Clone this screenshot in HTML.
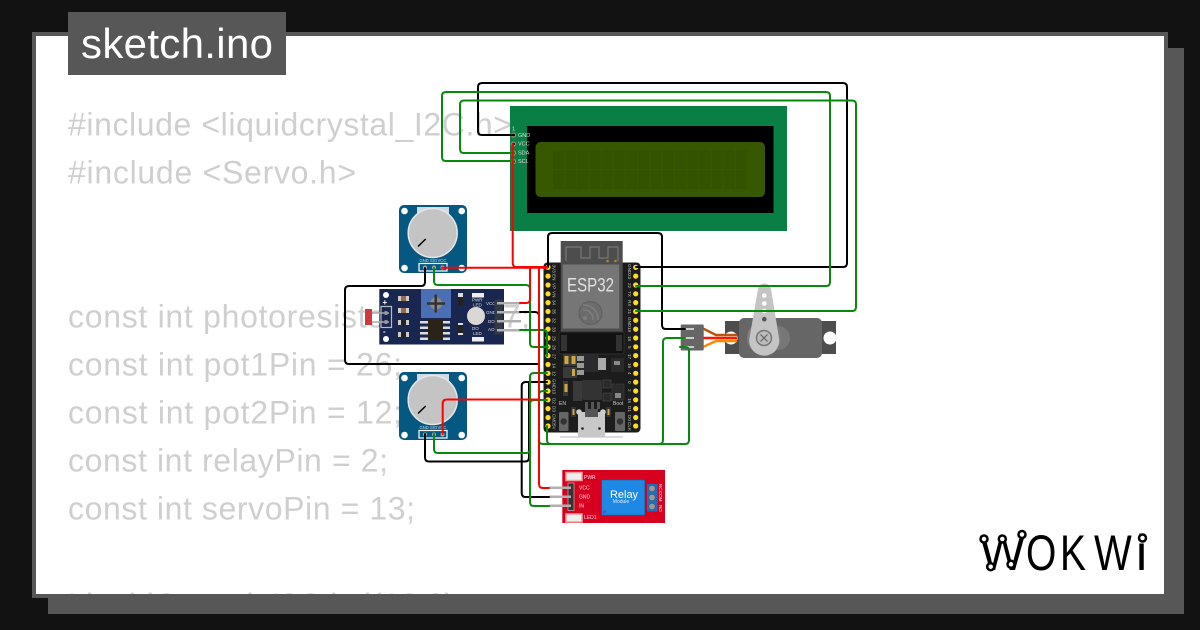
<!DOCTYPE html>
<html><head><meta charset="utf-8"><style>
html,body{margin:0;padding:0;background:#121212;width:1200px;height:630px;overflow:hidden}
svg{display:block}
.code{font-family:"Liberation Sans",sans-serif;font-size:32px;fill:#cfcfcf}
.t{font-family:"Liberation Sans",sans-serif}
.w{fill:none;stroke-width:2;stroke-linecap:round;stroke-linejoin:round}
</style></head><body>
<svg width="1200" height="630" viewBox="0 0 1200 630" xmlns="http://www.w3.org/2000/svg">
<defs>
<clipPath id="pc"><rect x="36" y="36" width="1128" height="558"/></clipPath>
<pattern id="cells" x="553" y="150" width="12.2" height="20" patternUnits="userSpaceOnUse"><rect width="11" height="19" fill="#345300"/></pattern>
</defs>
<rect width="1200" height="630" fill="#121212"/>
<rect x="48" y="48" width="1136" height="566" fill="#575757"/>
<rect x="32" y="32" width="1136" height="566" fill="#575757"/>
<rect x="36" y="36" width="1128" height="558" fill="#fff"/>
<g clip-path="url(#pc)">
<text class="code" x="68" y="135.500" textLength="444">#include &lt;liquidcrystal_I2C.h&gt;</text>
<text class="code" x="68" y="183.500" textLength="288">#include &lt;Servo.h&gt;</text>
<text class="code" x="68" y="327.500" textLength="462">const int photoresistorPin = 27;</text>
<text class="code" x="68" y="375.500" textLength="334">const int pot1Pin = 26;</text>
<text class="code" x="68" y="423.500" textLength="334">const int pot2Pin = 12;</text>
<text class="code" x="68" y="471.500" textLength="320">const int relayPin = 2;</text>
<text class="code" x="68" y="519.500" textLength="347">const int servoPin = 13;</text>
<text class="code" x="68" y="616" textLength="396">LiquidCrystal_I2C lcd(16,2);</text>
</g>
<rect x="68" y="12" width="218" height="63" fill="#575757"/>
<text class="t" x="81" y="58" font-size="42" fill="#fff" textLength="192">sketch.ino</text>

<!-- LCD -->
<rect x="510" y="106" width="277" height="125" fill="#0a7f45"/>
<rect x="527" y="126" width="246.500" height="87" fill="#000"/>
<rect x="535.500" y="142" width="229.500" height="55" rx="5" fill="#375700"/>
<rect x="553" y="150" width="195" height="39" fill="url(#cells)"/>
<g class="t" font-size="5.500" fill="#ddd">
<text x="512" y="130.500">1</text>
<text x="518" y="137">GND</text><text x="518" y="145.500">VCC</text><text x="518" y="154.500">SDA</text><text x="518" y="163">SCL</text>
</g>
<g fill="#111" stroke="#a09070" stroke-width="1.200"><circle cx="513.500" cy="135" r="2"/><circle cx="513.500" cy="144" r="2"/><circle cx="513.500" cy="153" r="2"/><circle cx="513.500" cy="161.500" r="2"/></g>

<!-- Pot 1 -->
<g>
<rect x="399" y="205" width="68" height="68" rx="5" fill="#045881"/>
<rect x="417" y="207" width="32" height="8" fill="#cfdbe4"/>
<circle cx="404.500" cy="211" r="3.300" fill="#fff"/><circle cx="461.700" cy="211" r="3.300" fill="#fff"/>
<circle cx="404.500" cy="268" r="3.300" fill="#fff"/><circle cx="461.700" cy="268" r="3.300" fill="#fff"/>
<circle cx="432.700" cy="233" r="24.500" fill="#c4c4c4" stroke="#e6e6e6" stroke-width="1.500"/>
<line x1="418" y1="246.500" x2="425.700" y2="239" stroke="#000" stroke-width="1.500"/>
<g class="t" font-size="4.200" fill="#cde"><text x="419.500" y="262">GND</text><text x="430" y="262">SIG</text><text x="437.500" y="262">VCC</text></g>
<rect x="419" y="263.500" width="28" height="7.500" fill="#045881" stroke="#fff" stroke-width="1.200"/>
<circle cx="425" cy="267.500" r="2" fill="#aaa"/><circle cx="434" cy="267.500" r="2" fill="#aaa"/><circle cx="442.500" cy="267.500" r="2" fill="#aaa"/>
</g>
<!-- Pot 2 -->
<g transform="translate(0,167)">
<rect x="399" y="205" width="68" height="68" rx="5" fill="#045881"/>
<rect x="417" y="207" width="32" height="8" fill="#cfdbe4"/>
<circle cx="404.500" cy="211" r="3.300" fill="#fff"/><circle cx="461.700" cy="211" r="3.300" fill="#fff"/>
<circle cx="404.500" cy="268" r="3.300" fill="#fff"/><circle cx="461.700" cy="268" r="3.300" fill="#fff"/>
<circle cx="432.700" cy="233" r="24.500" fill="#c4c4c4" stroke="#e6e6e6" stroke-width="1.500"/>
<line x1="418" y1="246.500" x2="425.700" y2="239" stroke="#000" stroke-width="1.500"/>
<g class="t" font-size="4.200" fill="#cde"><text x="419.500" y="262">GND</text><text x="430" y="262">SIG</text><text x="437.500" y="262">VCC</text></g>
<rect x="419" y="263.500" width="28" height="7.500" fill="#045881" stroke="#fff" stroke-width="1.200"/>
<circle cx="425" cy="267.500" r="2" fill="#aaa"/><circle cx="434" cy="267.500" r="2" fill="#aaa"/><circle cx="442.500" cy="267.500" r="2" fill="#aaa"/>
</g>

<!-- Light sensor -->
<rect x="379.300" y="289" width="124.700" height="55.500" fill="#19264f"/>
<circle cx="386" cy="295" r="3" fill="#fff"/><circle cx="386" cy="339" r="3" fill="#fff"/>
<text class="t" x="382.500" y="305" font-size="8" font-weight="bold" fill="#fff">+</text>
<text class="t" x="383" y="334" font-size="8" font-weight="bold" fill="#fff">-</text>
<rect x="365" y="309" width="7" height="16" fill="#d0393f"/>
<rect x="381" y="306.500" width="10.500" height="21" fill="#19264f" stroke="#bbb" stroke-width="1.200"/>
<line x1="372" y1="313" x2="389" y2="313" stroke="#aaa" stroke-width="1.500"/><line x1="372" y1="322" x2="389" y2="322" stroke="#aaa" stroke-width="1.500"/>
<circle cx="386" cy="313" r="2" fill="#999"/><circle cx="386" cy="322" r="2" fill="#999"/>
<g>
<rect x="398" y="296" width="11" height="5" fill="#ccc"/><rect x="401" y="296" width="5" height="5" fill="#9a6a50"/>
<rect x="398" y="308" width="11" height="5" fill="#ccc"/><rect x="401" y="308" width="5" height="5" fill="#9a6a50"/>
<rect x="398" y="320" width="11" height="5" fill="#ccc"/><rect x="401" y="320" width="5" height="5" fill="#222"/>
<rect x="398" y="332" width="11" height="5" fill="#ccc"/><rect x="401" y="332" width="5" height="5" fill="#222"/>
</g>
<rect x="421" y="289" width="30" height="29" fill="#4a6fb5"/>
<circle cx="436" cy="303.500" r="6" fill="#8a8a8a"/>
<rect x="434.500" y="294.500" width="2.500" height="18" fill="#333"/><rect x="427" y="302.300" width="18" height="2.500" fill="#333"/>
<g fill="#ddd"><rect x="420" y="321" width="30" height="2.500"/><rect x="420" y="326.500" width="30" height="2.500"/><rect x="420" y="332" width="30" height="2.500"/><rect x="420" y="337.500" width="30" height="2.500"/></g>
<rect x="428" y="320" width="15" height="20" fill="#2a2418"/>
<rect x="458" y="293" width="5" height="12" fill="#ddd"/><rect x="458" y="297" width="5" height="9" fill="#222"/>
<rect x="458" y="323" width="5" height="12" fill="#ddd"/><rect x="458" y="325" width="5" height="8" fill="#222"/>
<rect x="472" y="293" width="12" height="4.500" fill="#eee"/><rect x="472" y="337" width="12" height="4.500" fill="#eee"/>
<g class="t" font-size="4.500" fill="#ddd"><text x="472" y="301.500">PWR</text><text x="473" y="306.500">LED</text><text x="472" y="330">DO</text><text x="473" y="335">LED</text>
<text x="486" y="305">VCC</text><text x="486" y="314">GND</text><text x="488" y="323">DO</text><text x="488" y="331">AO</text></g>
<circle cx="476" cy="316" r="9" fill="#dad8d4"/>
<rect x="494.500" y="299.500" width="8" height="35" fill="#333845"/>
<g fill="#b0b0b0"><rect x="497" y="302" width="24" height="2.500"/><rect x="497" y="311" width="24" height="2.500"/><rect x="497" y="320" width="24" height="2.500"/><rect x="497" y="329" width="24" height="2.500"/></g>

<!-- ESP32 -->
<rect x="543.500" y="262.500" width="97" height="170" rx="4" fill="#1c1c1c"/>
<rect x="560.700" y="241" width="62" height="91" fill="#4d4d4d"/>
<path d="M566 261 V247 H581 V258 H590 V247 H599 V258 H608 V247 H618 V261" fill="none" stroke="#777" stroke-width="1.200"/>
<circle cx="607.500" cy="261" r="1.300" fill="#a88a20"/><circle cx="615.500" cy="261" r="1.300" fill="#a88a20"/>
<rect x="562.700" y="264.500" width="56.500" height="64" fill="#767676"/>
<text class="t" x="567" y="291.500" font-size="19.500" fill="#e0e0e0" textLength="47" lengthAdjust="spacingAndGlyphs">ESP32</text>
<circle cx="590.500" cy="313" r="11.500" fill="#6c6c6c" stroke="#5f5f5f"/>
<path d="M583 305 a14 14 0 0 1 15 15 M583 310 a9 9 0 0 1 10 10" fill="none" stroke="#7e7e7e" stroke-width="1.500"/>
<circle cx="585" cy="318" r="2" fill="#7e7e7e"/>
<!-- lower module block -->
<rect x="559" y="332" width="65" height="22" rx="2" fill="#121212" stroke="#2e2e2e"/>
<g fill="#333"><rect x="561" y="335" width="6" height="16"/><rect x="616" y="335" width="6" height="16"/></g>
<g fill="#3a3a3a">
<rect x="563" y="354" width="7" height="12"/><rect x="570" y="354" width="7" height="12"/>
<rect x="563" y="367" width="7" height="11"/><rect x="570" y="367" width="7" height="11"/>
<rect x="563" y="381" width="5" height="15"/><rect x="573" y="381" width="9" height="20"/>
</g>
<g fill="#d0a840"><rect x="564.500" y="356" width="4" height="8"/><rect x="571.500" y="356" width="4" height="8"/><rect x="572" y="369" width="3" height="7"/><rect x="564.500" y="384" width="3" height="8"/></g>
<rect x="578" y="354" width="21" height="18" fill="#2b2b2b"/>
<rect x="598" y="358" width="8" height="12" fill="#aaa"/>
<g fill="#999"><rect x="577" y="356" width="7" height="5"/><rect x="577" y="363" width="7" height="5"/><rect x="577" y="370" width="7" height="5"/></g>
<rect x="611" y="358" width="13" height="14" fill="#2a2a2a"/><rect x="614" y="361" width="6" height="4" fill="#888"/>
<rect x="582" y="380" width="20" height="20" rx="2" fill="#333"/>
<rect x="603" y="380" width="8" height="8" fill="#2a2a2a" stroke="#555" stroke-width=".500"/>
<rect x="603" y="393" width="8" height="8" fill="#2a2a2a" stroke="#555" stroke-width=".500"/>
<rect x="612" y="384" width="12" height="16" fill="#2a2a2a" stroke="#444" stroke-width=".500"/><rect x="615" y="393" width="6" height="5" fill="#888"/>
<text class="t" x="559" y="405" font-size="5" fill="#ccc">EN</text>
<text class="t" x="613" y="405" font-size="5" fill="#ccc">Boot</text>
<rect x="559" y="412" width="9.500" height="19" rx="1" fill="#666"/><circle cx="563.700" cy="421.500" r="3.200" fill="#333"/>
<rect x="615" y="412" width="10" height="19" rx="1" fill="#666"/><circle cx="620" cy="421.500" r="3.200" fill="#333"/>
<rect x="571" y="407" width="5" height="10" fill="#333"/><rect x="572.500" y="409" width="2" height="6" fill="#d0a840"/>
<rect x="606" y="407" width="5" height="10" fill="#333"/><rect x="607.500" y="409" width="2" height="6" fill="#d0a840"/>
<g fill="#555"><rect x="585" y="402" width="3" height="7"/><rect x="591" y="402" width="3" height="7"/><rect x="597" y="402" width="3" height="7"/></g>
<rect x="560" y="436.500" width="63" height="1" fill="#bbb"/>
<rect x="578" y="412" width="27" height="25" fill="#c8c8c8"/>
<rect x="585" y="409" width="13" height="8" fill="#555"/>
<circle cx="579" cy="412" r="2.800" fill="#ccc"/><circle cx="603" cy="412" r="2.800" fill="#ccc"/>
<circle cx="582.500" cy="428.500" r="1.300" fill="#222"/><circle cx="599.500" cy="428.500" r="1.300" fill="#222"/>

<!-- pin labels -->
<g class="t" font-size="4.600" fill="#bdbdbd">
<text transform="translate(552.500,264.500) rotate(90)">3V3</text><text transform="translate(552.500,274) rotate(90)">EN</text><text transform="translate(552.500,283) rotate(90)">VP</text><text transform="translate(552.500,291) rotate(90)">VN</text><text transform="translate(552.500,300) rotate(90)">34</text><text transform="translate(552.500,309) rotate(90)">35</text><text transform="translate(552.500,318) rotate(90)">32</text><text transform="translate(552.500,327) rotate(90)">33</text><text transform="translate(552.500,336) rotate(90)">25</text><text transform="translate(552.500,345) rotate(90)">26</text><text transform="translate(552.500,354) rotate(90)">27</text><text transform="translate(552.500,363) rotate(90)">14</text><text transform="translate(552.500,371) rotate(90)">12</text><text transform="translate(552.500,379) rotate(90)">GND</text><text transform="translate(552.500,389) rotate(90)">13</text><text transform="translate(552.500,398) rotate(90)">D2</text><text transform="translate(552.500,406) rotate(90)">D3</text><text transform="translate(552.500,414) rotate(90)">CMD</text><text transform="translate(552.500,424) rotate(90)">5V</text>
<text transform="translate(628,264) rotate(90)">GND</text><text transform="translate(628,274) rotate(90)">23</text><text transform="translate(628,283) rotate(90)">22</text><text transform="translate(628,291) rotate(90)">TX</text><text transform="translate(628,300) rotate(90)">RX</text><text transform="translate(628,309) rotate(90)">21</text><text transform="translate(628,317) rotate(90)">GND</text><text transform="translate(628,327) rotate(90)">19</text><text transform="translate(628,336) rotate(90)">18</text><text transform="translate(628,346) rotate(90)">5</text><text transform="translate(628,354) rotate(90)">17</text><text transform="translate(628,363) rotate(90)">16</text><text transform="translate(628,372) rotate(90)">4</text><text transform="translate(628,381) rotate(90)">0</text><text transform="translate(628,389) rotate(90)">2</text><text transform="translate(628,398) rotate(90)">15</text><text transform="translate(628,406) rotate(90)">D1</text><text transform="translate(628,415) rotate(90)">D0</text><text transform="translate(628,422) rotate(90)">CLK</text>
</g>
<!-- pins -->
<g fill="#ffdd22">
<circle cx="548" cy="267.300" r="2.600"/><circle cx="548" cy="276.100" r="2.600"/><circle cx="548" cy="285" r="2.600"/><circle cx="548" cy="293.800" r="2.600"/><circle cx="548" cy="302.600" r="2.600"/><circle cx="548" cy="311.500" r="2.600"/><circle cx="548" cy="320.300" r="2.600"/><circle cx="548" cy="329.100" r="2.600"/><circle cx="548" cy="338" r="2.600"/><circle cx="548" cy="346.800" r="2.600"/><circle cx="548" cy="355.600" r="2.600"/><circle cx="548" cy="364.500" r="2.600"/><circle cx="548" cy="373.300" r="2.600"/><circle cx="548" cy="382.100" r="2.600"/><circle cx="548" cy="391" r="2.600"/><circle cx="548" cy="399.800" r="2.600"/><circle cx="548" cy="408.600" r="2.600"/><circle cx="548" cy="417.500" r="2.600"/><circle cx="548" cy="426" r="2.600"/>
<circle cx="635.700" cy="267.300" r="2.600"/><circle cx="635.700" cy="276.100" r="2.600"/><circle cx="635.700" cy="285" r="2.600"/><circle cx="635.700" cy="293.800" r="2.600"/><circle cx="635.700" cy="302.600" r="2.600"/><circle cx="635.700" cy="311.500" r="2.600"/><circle cx="635.700" cy="320.300" r="2.600"/><circle cx="635.700" cy="329.100" r="2.600"/><circle cx="635.700" cy="338" r="2.600"/><circle cx="635.700" cy="346.800" r="2.600"/><circle cx="635.700" cy="355.600" r="2.600"/><circle cx="635.700" cy="364.500" r="2.600"/><circle cx="635.700" cy="373.300" r="2.600"/><circle cx="635.700" cy="382.100" r="2.600"/><circle cx="635.700" cy="391" r="2.600"/><circle cx="635.700" cy="399.800" r="2.600"/><circle cx="635.700" cy="408.600" r="2.600"/><circle cx="635.700" cy="417.500" r="2.600"/><circle cx="635.700" cy="426" r="2.600"/>
</g>

<!-- Relay -->
<rect x="562.300" y="470" width="102.700" height="53" fill="#d8001f"/>
<rect x="566" y="472.500" width="16" height="8" fill="#eee" stroke="#f3a0a0" stroke-width="1.500"/>
<rect x="566" y="514" width="16" height="8" fill="#eee" stroke="#f3a0a0" stroke-width="1.500"/>
<g class="t" font-size="5" fill="#fde"><text x="584" y="479">PWR</text><text x="584" y="519">LED1</text><text x="579" y="489.500">VCC</text><text x="579" y="498.500">GND</text><text x="579" y="507.500">IN</text></g>
<rect x="568" y="483" width="6" height="27.500" fill="#333" stroke="#bbb" stroke-width=".700"/>
<g fill="#b0b0b0"><rect x="549" y="486.500" width="22" height="2.500"/><rect x="549" y="495.500" width="22" height="2.500"/><rect x="549" y="504.500" width="22" height="2.500"/></g>
<rect x="601.700" y="480" width="43" height="35" fill="#1e88e5" stroke="#1565a0" stroke-width=".600"/>
<text class="t" x="624" y="498" font-size="11" text-anchor="middle" fill="#fff">Relay</text>
<text class="t" x="621" y="503" font-size="5" text-anchor="middle" fill="#dfeeff">Module</text>
<circle cx="604.500" cy="512" r="1.800" fill="#5a4fcf"/>
<rect x="647" y="484" width="10.500" height="27.500" fill="#1a6fc0"/>
<circle cx="652" cy="488.500" r="3.200" fill="#999" stroke="#444" stroke-width=".500"/><circle cx="652" cy="497.500" r="3.200" fill="#999" stroke="#444" stroke-width=".500"/><circle cx="652" cy="506.500" r="3.200" fill="#999" stroke="#444" stroke-width=".500"/>
<g class="t" font-size="4.500" fill="#fff"><text transform="translate(659,484) rotate(90)">NC</text><text transform="translate(659,491) rotate(90)">COM</text><text transform="translate(659,505) rotate(90)">NO</text></g>

<!-- Servo -->
<rect x="725" y="321" width="111" height="33" fill="#4d4d4d"/>
<circle cx="731" cy="338" r="6.500" fill="#fff"/><circle cx="830" cy="338" r="6.500" fill="#fff"/>
<rect x="739" y="318" width="83" height="40" rx="5" fill="#666"/>
<circle cx="778" cy="338" r="12" fill="#777"/>
<circle cx="764" cy="338" r="17" fill="#7d7d7d"/>
<path d="M758 289 Q759 283.500 764.500 283.500 Q770 283.500 771 289 L779 338 A15 15 0 1 1 749.500 338 Z" fill="#c4c4c4"/>
<circle cx="764.300" cy="295.500" r="2.300" fill="#fff"/><circle cx="764.300" cy="303.500" r="2.300" fill="#fff"/><circle cx="764.300" cy="311" r="2.300" fill="#fff"/><circle cx="764.300" cy="319.200" r="2.300" fill="#555"/>
<circle cx="764" cy="338" r="7.500" fill="#bbb" stroke="#777" stroke-width="1.500"/>
<path d="M760.500 334.500 L767.500 341.500 M767.500 334.500 L760.500 341.500" stroke="#666" stroke-width="1.200"/>
<g fill="none" stroke-width="2.500"><path d="M703 328.500 L716 335 H737" stroke="#b5560f"/><path d="M703 338 H737" stroke="#ff1500"/><path d="M703 347 L716 341 H737" stroke="#ff8a00"/></g>
<rect x="680.700" y="324.500" width="23" height="26" rx="1" fill="#666"/>
<g fill="#ccc"><rect x="685" y="328" width="9" height="2"/><rect x="685" y="337" width="9" height="2"/><rect x="685" y="346" width="9" height="2"/></g>

<!-- wires -->
<g class="w" stroke="#000">
<path d="M514 135 H482 Q478 135 478 131 V87 Q478 83 482 83 H843 Q847 83 847 87 V263 Q847 267 843 267 H636"/>
<path d="M548 267 V237 Q548 233 552 233 H658 Q662 233 662 237 V325 Q662 329 666 329 H685"/>
<path d="M425 268 V282 Q425 286 421 286 H349 Q345 286 345 290 V360 Q345 364 349 364 H539"/>
<path d="M520 312 H535 Q539 312 539 316 V364"/>
<path d="M425 434 V457.500 Q425 461.500 429 461.500 H525 Q529 461.500 529 457.500 V382"/>
<path d="M549 497 H525.700 Q521.700 497 521.700 493 V386 Q521.700 382 525.700 382 H547"/>
</g>
<g class="w" stroke="#078a0c">
<path d="M514 161 H446 Q442 161 442 157 V96 Q442 92 446 92 H826 Q830 92 830 96 V282 Q830 286 826 286 H636"/>
<path d="M514 153 H464 Q460 153 460 149 V104.500 Q460 100.500 464 100.500 H852 Q856 100.500 856 104.500 V307 Q856 311 852 311 H636"/>
<path d="M434 268 V281 Q434 285 438 285 H526 Q530 285 530 289 V343 Q530 347 534 347 H548"/>
<path d="M520 330 H543 Q547 330 547 334 V356"/>
<path d="M434 434 V449 Q434 453 438 453 H526 Q530 453 530 449 V404 Q530 400 534 400 H547"/>
<path d="M549 506 H534 Q530 506 530 502 V377 Q530 373 534 373 H547"/>
<path d="M685 338 H667 Q663 338 663 342 V440 Q663 444 659 444 H543 Q539 444 539 440 V395 Q539 391 543 391 H547"/>
<path d="M680 347 H685 Q689 347 689 351 V440 Q689 444 685 444 H551 Q547 444 547 440 V426"/>
</g>
<g class="w" stroke="#ff0000">
<path d="M512.700 144 V263 Q512.700 267 516.700 267 H547"/>
<path d="M442 267.700 H547"/>
<path d="M520 303 H526 Q530 303 530 299 V267.500"/>
<path d="M539 267.500 V484 Q539 488 543 488 H549"/>
<path d="M442.700 434 V403.500 Q442.700 399.500 446.700 399.500 H539"/>
</g>

<!-- Wokwi logo -->
<g class="t" font-size="50" fill="#000">
<text transform="translate(980,570) scale(.95,1)">W</text>
<text transform="translate(1026,570) scale(.78,1)">O</text>
<text transform="translate(1060,570) scale(.78,1)">K</text>
<text transform="translate(1094,570) scale(.8,1)">W</text>
<text transform="translate(1136,570)">i</text>
</g>
<g fill="#fff" stroke="#000" stroke-width="2.500">
<circle cx="984" cy="539" r="3.500"/><circle cx="1002.300" cy="539" r="3.500"/><circle cx="1022" cy="534.500" r="3.500"/><circle cx="990.700" cy="566.700" r="3.500"/><circle cx="1011" cy="564.300" r="3.500"/><circle cx="1142.500" cy="538" r="3.500"/>
</g>
</svg>
</body></html>
